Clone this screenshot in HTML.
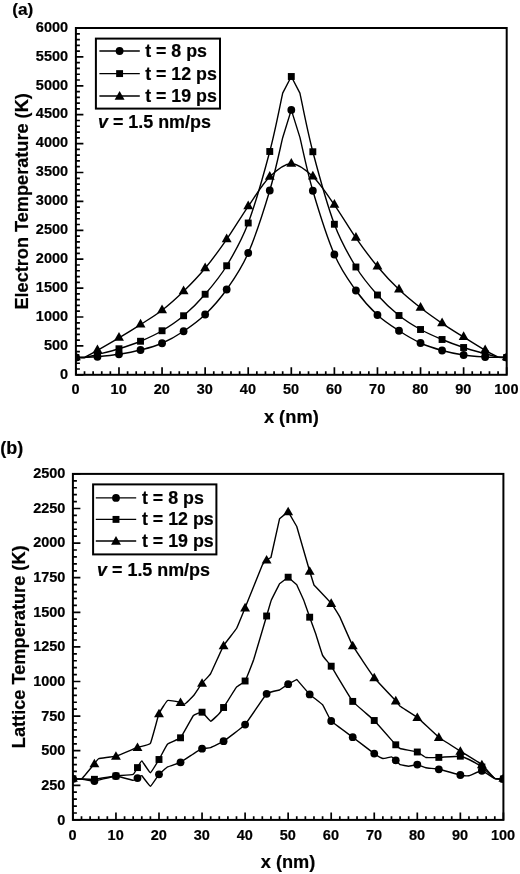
<!DOCTYPE html>
<html><head><meta charset="utf-8"><title>Figure</title>
<style>
html,body{margin:0;padding:0;background:#fff}
svg{display:block}
text{font-family:"Liberation Sans",Arial,sans-serif;font-weight:bold;fill:#000;stroke:#000;stroke-width:0.2px}
</style></head>
<body>
<svg width="520" height="874" viewBox="0 0 520 874">
<rect width="520" height="874" fill="#fff"/>
<g stroke="#000" stroke-width="2" fill="none">
<rect x="75.9" y="28" width="430.8" height="346.8"/>
</g>
<path d="M75.9 374.8v-7.5M84.52 374.8v-3.6M93.13 374.8v-3.6M101.75 374.8v-3.6M110.36 374.8v-3.6M118.98 374.8v-7.5M127.6 374.8v-3.6M136.21 374.8v-3.6M144.83 374.8v-3.6M153.44 374.8v-3.6M162.06 374.8v-7.5M170.68 374.8v-3.6M179.29 374.8v-3.6M187.91 374.8v-3.6M196.52 374.8v-3.6M205.14 374.8v-7.5M213.76 374.8v-3.6M222.37 374.8v-3.6M230.99 374.8v-3.6M239.6 374.8v-3.6M248.22 374.8v-7.5M256.84 374.8v-3.6M265.45 374.8v-3.6M274.07 374.8v-3.6M282.68 374.8v-3.6M291.3 374.8v-7.5M299.92 374.8v-3.6M308.53 374.8v-3.6M317.15 374.8v-3.6M325.76 374.8v-3.6M334.38 374.8v-7.5M343 374.8v-3.6M351.61 374.8v-3.6M360.23 374.8v-3.6M368.84 374.8v-3.6M377.46 374.8v-7.5M386.08 374.8v-3.6M394.69 374.8v-3.6M403.31 374.8v-3.6M411.92 374.8v-3.6M420.54 374.8v-7.5M429.16 374.8v-3.6M437.77 374.8v-3.6M446.39 374.8v-3.6M455 374.8v-3.6M463.62 374.8v-7.5M472.24 374.8v-3.6M480.85 374.8v-3.6M489.47 374.8v-3.6M498.08 374.8v-3.6M506.7 374.8v-7.5M75.9 374.8h7.5M75.9 369.02h4M75.9 363.24h4M75.9 357.46h4M75.9 351.68h4M75.9 345.9h7.5M75.9 340.12h4M75.9 334.34h4M75.9 328.56h4M75.9 322.78h4M75.9 317h7.5M75.9 311.22h4M75.9 305.44h4M75.9 299.66h4M75.9 293.88h4M75.9 288.1h7.5M75.9 282.32h4M75.9 276.54h4M75.9 270.76h4M75.9 264.98h4M75.9 259.2h7.5M75.9 253.42h4M75.9 247.64h4M75.9 241.86h4M75.9 236.08h4M75.9 230.3h7.5M75.9 224.52h4M75.9 218.74h4M75.9 212.96h4M75.9 207.18h4M75.9 201.4h7.5M75.9 195.62h4M75.9 189.84h4M75.9 184.06h4M75.9 178.28h4M75.9 172.5h7.5M75.9 166.72h4M75.9 160.94h4M75.9 155.16h4M75.9 149.38h4M75.9 143.6h7.5M75.9 137.82h4M75.9 132.04h4M75.9 126.26h4M75.9 120.48h4M75.9 114.7h7.5M75.9 108.92h4M75.9 103.14h4M75.9 97.36h4M75.9 91.58h4M75.9 85.8h7.5M75.9 80.02h4M75.9 74.24h4M75.9 68.46h4M75.9 62.68h4M75.9 56.9h7.5M75.9 51.12h4M75.9 45.34h4M75.9 39.56h4M75.9 33.78h4M75.9 28h7.5" stroke="#000" stroke-width="1.7" fill="none"/>
<clipPath id="ca"><rect x="75.9" y="28" width="430.8" height="346.8"/></clipPath>
<g clip-path="url(#ca)">
<path d="M75.9 357.5L84.52 357.5C86.67 357.38 91.7 357.29 97.44 356.75C103.18 356.21 111.8 355.38 118.98 354.25C126.16 353.12 133.34 351.83 140.52 350C147.7 348.17 154.88 346.38 162.06 343.25C169.24 340.12 176.42 336.04 183.6 331.25C190.78 326.46 197.96 321.46 205.14 314.5C212.32 307.54 219.5 299.75 226.68 289.5C233.86 279.25 241.04 269.5 248.22 253C255.4 236.5 264.02 209.72 269.76 190.5C275.5 171.28 280.53 146.5 282.68 137.7L291.3 109.9L299.92 137.4C302.07 146.29 307.1 171.23 312.84 190.75C318.58 210.27 327.2 237.88 334.38 254.5C341.56 271.12 348.74 280.42 355.92 290.5C363.1 300.58 370.28 308.29 377.46 315C384.64 321.71 391.82 326.08 399 330.75C406.18 335.42 413.36 339.71 420.54 343C427.72 346.29 434.9 348.5 442.08 350.5C449.26 352.5 456.44 353.92 463.62 355C470.8 356.08 479.42 356.6 485.16 357C490.9 357.4 495.93 357.33 498.08 357.4L506.7 357.5" stroke="#000" stroke-width="1.4" fill="none" stroke-linejoin="round"/>
<g fill="#000"><circle cx="75.9" cy="357.5" r="3.9"/><circle cx="97.44" cy="356.75" r="3.9"/><circle cx="118.98" cy="354.25" r="3.9"/><circle cx="140.52" cy="350" r="3.9"/><circle cx="162.06" cy="343.25" r="3.9"/><circle cx="183.6" cy="331.25" r="3.9"/><circle cx="205.14" cy="314.5" r="3.9"/><circle cx="226.68" cy="289.5" r="3.9"/><circle cx="248.22" cy="253" r="3.9"/><circle cx="269.76" cy="190.5" r="3.9"/><circle cx="291.3" cy="109.9" r="3.9"/><circle cx="312.84" cy="190.75" r="3.9"/><circle cx="334.38" cy="254.5" r="3.9"/><circle cx="355.92" cy="290.5" r="3.9"/><circle cx="377.46" cy="315" r="3.9"/><circle cx="399" cy="330.75" r="3.9"/><circle cx="420.54" cy="343" r="3.9"/><circle cx="442.08" cy="350.5" r="3.9"/><circle cx="463.62" cy="355" r="3.9"/><circle cx="485.16" cy="357" r="3.9"/><circle cx="506.7" cy="357.5" r="3.9"/></g>
<path d="M75.9 357.5L84.52 357.5C86.67 357 91.7 355.96 97.44 354.5C103.18 353.04 111.8 350.96 118.98 348.75C126.16 346.54 133.34 344.25 140.52 341.25C147.7 338.25 154.88 335 162.06 330.75C169.24 326.5 176.42 321.83 183.6 315.75C190.78 309.67 197.96 302.58 205.14 294.25C212.32 285.92 219.5 277.62 226.68 265.75C233.86 253.88 241.04 242.04 248.22 223C255.4 203.96 264.02 173.15 269.76 151.5C275.5 129.85 280.53 102.83 282.68 93.1L291.3 76.5L299.92 93.1C302.07 102.88 307.1 129.89 312.84 151.75C318.58 173.61 327.2 205.04 334.38 224.25C341.56 243.46 348.74 255.21 355.92 267C363.1 278.79 370.28 286.92 377.46 295C384.64 303.08 391.82 309.75 399 315.5C406.18 321.25 413.36 325.5 420.54 329.5C427.72 333.5 434.9 336.5 442.08 339.5C449.26 342.5 456.44 345.12 463.62 347.5C470.8 349.88 479.42 352.13 485.16 353.75C490.9 355.37 495.93 356.62 498.08 357.2L506.7 357.5" stroke="#000" stroke-width="1.4" fill="none" stroke-linejoin="round"/>
<g fill="#000"><rect x="72.45" y="354.05" width="6.9" height="6.9"/><rect x="93.99" y="351.05" width="6.9" height="6.9"/><rect x="115.53" y="345.3" width="6.9" height="6.9"/><rect x="137.07" y="337.8" width="6.9" height="6.9"/><rect x="158.61" y="327.3" width="6.9" height="6.9"/><rect x="180.15" y="312.3" width="6.9" height="6.9"/><rect x="201.69" y="290.8" width="6.9" height="6.9"/><rect x="223.23" y="262.3" width="6.9" height="6.9"/><rect x="244.77" y="219.55" width="6.9" height="6.9"/><rect x="266.31" y="148.05" width="6.9" height="6.9"/><rect x="287.85" y="73.05" width="6.9" height="6.9"/><rect x="309.39" y="148.3" width="6.9" height="6.9"/><rect x="330.93" y="220.8" width="6.9" height="6.9"/><rect x="352.47" y="263.55" width="6.9" height="6.9"/><rect x="374.01" y="291.55" width="6.9" height="6.9"/><rect x="395.55" y="312.05" width="6.9" height="6.9"/><rect x="417.09" y="326.05" width="6.9" height="6.9"/><rect x="438.63" y="336.05" width="6.9" height="6.9"/><rect x="460.17" y="344.05" width="6.9" height="6.9"/><rect x="481.71" y="350.3" width="6.9" height="6.9"/><rect x="503.25" y="354.05" width="6.9" height="6.9"/></g>
<path d="M75.9 357.5L84.52 357.5C86.67 356.3 91.7 353.58 97.44 350.3C103.18 347.02 111.8 342.09 118.98 337.8C126.16 333.51 133.34 329.13 140.52 324.55C147.7 319.97 154.88 315.84 162.06 310.3C169.24 304.76 176.42 298.3 183.6 291.3C190.78 284.3 197.96 276.97 205.14 268.3C212.32 259.63 219.5 249.63 226.68 239.3C233.86 228.97 241.04 216.72 248.22 206.3C255.4 195.88 262.58 183.88 269.76 176.8C276.94 169.72 284.12 163.84 291.3 163.8C298.48 163.76 305.66 169.72 312.84 176.55C320.02 183.38 327.2 194.59 334.38 204.8C341.56 215.01 348.74 227.51 355.92 237.8C363.1 248.09 370.28 257.93 377.46 266.55C384.64 275.18 391.82 282.68 399 289.55C406.18 296.43 413.36 302.18 420.54 307.8C427.72 313.43 434.9 318.43 442.08 323.3C449.26 328.18 456.44 332.55 463.62 337.05C470.8 341.55 479.42 346.98 485.16 350.3C490.9 353.62 495.93 355.88 498.08 357L506.7 357.5" stroke="#000" stroke-width="1.4" fill="none" stroke-linejoin="round"/>
<g fill="#000"><path d="M75.9 351.77L80.85 360.37L70.95 360.37Z"/><path d="M97.44 344.57L102.39 353.17L92.49 353.17Z"/><path d="M118.98 332.07L123.93 340.67L114.03 340.67Z"/><path d="M140.52 318.82L145.47 327.42L135.57 327.42Z"/><path d="M162.06 304.57L167.01 313.17L157.11 313.17Z"/><path d="M183.6 285.57L188.55 294.17L178.65 294.17Z"/><path d="M205.14 262.57L210.09 271.17L200.19 271.17Z"/><path d="M226.68 233.57L231.63 242.17L221.73 242.17Z"/><path d="M248.22 200.57L253.17 209.17L243.27 209.17Z"/><path d="M269.76 171.07L274.71 179.67L264.81 179.67Z"/><path d="M291.3 158.07L296.25 166.67L286.35 166.67Z"/><path d="M312.84 170.82L317.79 179.42L307.89 179.42Z"/><path d="M334.38 199.07L339.33 207.67L329.43 207.67Z"/><path d="M355.92 232.07L360.87 240.67L350.97 240.67Z"/><path d="M377.46 260.82L382.41 269.42L372.51 269.42Z"/><path d="M399 283.82L403.95 292.42L394.05 292.42Z"/><path d="M420.54 302.07L425.49 310.67L415.59 310.67Z"/><path d="M442.08 317.57L447.03 326.17L437.13 326.17Z"/><path d="M463.62 331.32L468.57 339.92L458.67 339.92Z"/><path d="M485.16 344.57L490.11 353.17L480.21 353.17Z"/><path d="M506.7 351.77L511.65 360.37L501.75 360.37Z"/></g>
</g>
<text x="75.6" y="393.9" text-anchor="middle" font-size="14.5">0</text>
<text x="118.68" y="393.9" text-anchor="middle" font-size="14.5">10</text>
<text x="161.76" y="393.9" text-anchor="middle" font-size="14.5">20</text>
<text x="204.84" y="393.9" text-anchor="middle" font-size="14.5">30</text>
<text x="247.92" y="393.9" text-anchor="middle" font-size="14.5">40</text>
<text x="291" y="393.9" text-anchor="middle" font-size="14.5">50</text>
<text x="334.08" y="393.9" text-anchor="middle" font-size="14.5">60</text>
<text x="377.16" y="393.9" text-anchor="middle" font-size="14.5">70</text>
<text x="420.24" y="393.9" text-anchor="middle" font-size="14.5">80</text>
<text x="463.32" y="393.9" text-anchor="middle" font-size="14.5">90</text>
<text x="506.4" y="393.9" text-anchor="middle" font-size="14.5">100</text>
<text x="68.1" y="379.3" text-anchor="end" font-size="14.5">0</text>
<text x="68.1" y="350.32" text-anchor="end" font-size="14.5">500</text>
<text x="68.1" y="321.34" text-anchor="end" font-size="14.5">1000</text>
<text x="68.1" y="292.36" text-anchor="end" font-size="14.5">1500</text>
<text x="68.1" y="263.38" text-anchor="end" font-size="14.5">2000</text>
<text x="68.1" y="234.4" text-anchor="end" font-size="14.5">2500</text>
<text x="68.1" y="205.42" text-anchor="end" font-size="14.5">3000</text>
<text x="68.1" y="176.44" text-anchor="end" font-size="14.5">3500</text>
<text x="68.1" y="147.46" text-anchor="end" font-size="14.5">4000</text>
<text x="68.1" y="118.48" text-anchor="end" font-size="14.5">4500</text>
<text x="68.1" y="89.5" text-anchor="end" font-size="14.5">5000</text>
<text x="68.1" y="60.52" text-anchor="end" font-size="14.5">5500</text>
<text x="68.1" y="31.54" text-anchor="end" font-size="14.5">6000</text>
<text x="291.3" y="422.5" text-anchor="middle" font-size="18.3">x (nm)</text>
<text transform="translate(28.2 201.4) rotate(-90)" text-anchor="middle" font-size="18.15">Electron Temperature (K)</text>
<text x="12.2" y="15.2" font-size="17.3">(a)</text>
<rect x="95.9" y="38.6" width="124.1" height="70" fill="#fff" stroke="#000" stroke-width="2"/>
<path d="M99.4 51H139.8" stroke="#000" stroke-width="1.4"/>
<circle cx="119.6" cy="51" r="3.9"/>
<text x="145.2" y="57" font-size="17.8">t = 8 ps</text>
<path d="M99.4 73.6H139.8" stroke="#000" stroke-width="1.4"/>
<rect x="116.15" y="70.15" width="6.9" height="6.9"/>
<text x="145.2" y="79.6" font-size="17.8">t = 12 ps</text>
<path d="M99.4 96H139.8" stroke="#000" stroke-width="1.4"/>
<path d="M119.6 91.07L124.55 99.67L114.65 99.67Z"/>
<text x="145.2" y="102" font-size="17.8">t = 19 ps</text>
<text x="98" y="128.3" font-size="17.9"><tspan font-style="italic">v</tspan> = 1.5 nm/ps</text>
<g stroke="#000" stroke-width="2" fill="none">
<rect x="72.9" y="473.9" width="430.5" height="346"/>
</g>
<path d="M72.9 819.9v-7.5M81.51 819.9v-3.6M90.12 819.9v-3.6M98.73 819.9v-3.6M107.34 819.9v-3.6M115.95 819.9v-7.5M124.56 819.9v-3.6M133.17 819.9v-3.6M141.78 819.9v-3.6M150.39 819.9v-3.6M159 819.9v-7.5M167.61 819.9v-3.6M176.22 819.9v-3.6M184.83 819.9v-3.6M193.44 819.9v-3.6M202.05 819.9v-7.5M210.66 819.9v-3.6M219.27 819.9v-3.6M227.88 819.9v-3.6M236.49 819.9v-3.6M245.1 819.9v-7.5M253.71 819.9v-3.6M262.32 819.9v-3.6M270.93 819.9v-3.6M279.54 819.9v-3.6M288.15 819.9v-7.5M296.76 819.9v-3.6M305.37 819.9v-3.6M313.98 819.9v-3.6M322.59 819.9v-3.6M331.2 819.9v-7.5M339.81 819.9v-3.6M348.42 819.9v-3.6M357.03 819.9v-3.6M365.64 819.9v-3.6M374.25 819.9v-7.5M382.86 819.9v-3.6M391.47 819.9v-3.6M400.08 819.9v-3.6M408.69 819.9v-3.6M417.3 819.9v-7.5M425.91 819.9v-3.6M434.52 819.9v-3.6M443.13 819.9v-3.6M451.74 819.9v-3.6M460.35 819.9v-7.5M468.96 819.9v-3.6M477.57 819.9v-3.6M486.18 819.9v-3.6M494.79 819.9v-3.6M503.4 819.9v-7.5M72.9 819.9h7.5M72.9 812.98h4M72.9 806.06h4M72.9 799.14h4M72.9 792.22h4M72.9 785.3h7.5M72.9 778.38h4M72.9 771.46h4M72.9 764.54h4M72.9 757.62h4M72.9 750.7h7.5M72.9 743.78h4M72.9 736.86h4M72.9 729.94h4M72.9 723.02h4M72.9 716.1h7.5M72.9 709.18h4M72.9 702.26h4M72.9 695.34h4M72.9 688.42h4M72.9 681.5h7.5M72.9 674.58h4M72.9 667.66h4M72.9 660.74h4M72.9 653.82h4M72.9 646.9h7.5M72.9 639.98h4M72.9 633.06h4M72.9 626.14h4M72.9 619.22h4M72.9 612.3h7.5M72.9 605.38h4M72.9 598.46h4M72.9 591.54h4M72.9 584.62h4M72.9 577.7h7.5M72.9 570.78h4M72.9 563.86h4M72.9 556.94h4M72.9 550.02h4M72.9 543.1h7.5M72.9 536.18h4M72.9 529.26h4M72.9 522.34h4M72.9 515.42h4M72.9 508.5h7.5M72.9 501.58h4M72.9 494.66h4M72.9 487.74h4M72.9 480.82h4M72.9 473.9h7.5" stroke="#000" stroke-width="1.7" fill="none"/>
<clipPath id="cb"><rect x="72.9" y="473.9" width="430.5" height="346"/></clipPath>
<g clip-path="url(#cb)">
<path d="M72.9 778.8C73.3 778.81 80.51 778.9 81.51 779C82.51 779.1 92.82 781.14 94.43 781C96.03 780.86 114.14 776.03 115.95 776C117.76 775.97 132.17 780.3 133.17 780.4C134.17 780.5 137.07 778.32 137.48 778.1C137.88 777.88 141.18 775.32 141.78 775.7C142.38 776.08 149.59 786.27 150.39 786.2C151.19 786.13 158.2 775.2 159 774.3C159.8 773.4 166.61 767.46 167.61 766.9C168.61 766.34 179.32 762.91 180.53 762.3C181.73 761.69 192.44 754.43 193.44 753.8C194.44 753.17 201.25 748.99 202.05 748.7C202.85 748.41 209.66 747.95 210.66 747.6C211.66 747.25 221.97 742.27 223.58 741.2C225.18 740.13 243.09 726.81 245.1 724.6C247.11 722.39 265.02 695.41 266.62 693.8C268.23 692.19 278.94 690.18 279.54 690L288.15 684.2L296.76 679.5C297.36 680.2 308.47 693.22 309.68 694.4C310.88 695.58 321.59 703.56 322.59 704.8C323.59 706.04 329.79 719.49 331.2 721C332.61 722.51 350.72 735.68 352.73 737.2C354.73 738.72 372.84 752.61 374.25 753.6C375.66 754.59 382.06 758.35 382.86 758.5C383.66 758.65 390.87 756.81 391.47 756.9C392.07 756.99 395.37 760.04 395.77 760.4C396.18 760.76 399.48 764.33 400.08 764.6C400.68 764.87 407.89 766.2 408.69 766.2C409.49 766.2 416.5 764.53 417.3 764.6C418.1 764.67 424.91 767.48 425.91 767.7C426.91 767.92 437.22 768.96 438.83 769.3C440.43 769.64 458.94 774.7 460.35 775C461.76 775.3 467.96 775.9 468.96 775.7C469.96 775.5 480.67 770.67 481.88 770.8C483.08 770.93 493.79 778.12 494.79 778.5C495.79 778.88 503 778.98 503.4 779" stroke="#000" stroke-width="1.4" fill="none" stroke-linejoin="round"/>
<g fill="#000"><circle cx="72.9" cy="778.8" r="3.9"/><circle cx="94.43" cy="781" r="3.9"/><circle cx="115.95" cy="776" r="3.9"/><circle cx="137.48" cy="778.1" r="3.9"/><circle cx="159" cy="774.3" r="3.9"/><circle cx="180.53" cy="762.3" r="3.9"/><circle cx="202.05" cy="748.7" r="3.9"/><circle cx="223.58" cy="741.2" r="3.9"/><circle cx="245.1" cy="724.6" r="3.9"/><circle cx="266.62" cy="693.8" r="3.9"/><circle cx="288.15" cy="684.2" r="3.9"/><circle cx="309.68" cy="694.4" r="3.9"/><circle cx="331.2" cy="721" r="3.9"/><circle cx="352.73" cy="737.2" r="3.9"/><circle cx="374.25" cy="753.6" r="3.9"/><circle cx="395.77" cy="760.4" r="3.9"/><circle cx="417.3" cy="764.6" r="3.9"/><circle cx="438.83" cy="769.3" r="3.9"/><circle cx="460.35" cy="775" r="3.9"/><circle cx="481.88" cy="770.8" r="3.9"/><circle cx="503.4" cy="779" r="3.9"/></g>
<path d="M72.9 778.8C73.3 778.81 80.51 778.98 81.51 779C82.51 779.02 92.82 779.44 94.43 779.3C96.03 779.16 114.14 776.23 115.95 776C117.76 775.77 132.17 774.69 133.17 774.3C134.17 773.91 137.07 768.23 137.48 767.6C137.88 766.97 141.18 760.66 141.78 760.9C142.38 761.14 149.59 772.77 150.39 772.7C151.19 772.63 158.2 760.84 159 759.5C159.8 758.16 166.61 745.01 167.61 744C168.61 742.99 179.32 739.13 180.53 737.8C181.73 736.47 192.44 716.69 193.44 715.5C194.44 714.31 201.25 711.93 202.05 712.2C202.85 712.47 209.86 721.14 210.66 721.2C211.46 721.26 218.67 714.14 219.27 713.5C219.87 712.86 222.77 708.73 223.58 707.5C224.38 706.27 235.49 688.34 236.49 687.1C237.49 685.86 244.3 682.29 245.1 681C245.9 679.71 252.71 662.53 253.71 659.5C254.71 656.47 265.8 618.78 266.62 616C267.45 613.22 270.76 601.5 271.36 600C271.96 598.5 279.16 584.56 279.54 583.8L288.15 577.2L296.76 584.8C297.08 585.51 303.05 598.49 303.65 600C304.25 601.51 309.11 615.62 309.68 617.2C310.24 618.78 315.1 632.02 315.7 633.8C316.3 635.58 321.87 653.89 322.59 655.4C323.31 656.91 329.79 664.05 331.2 666.2C332.61 668.35 350.72 698.87 352.73 701.4C354.73 703.93 372.24 718.47 374.25 720.5C376.26 722.53 394.57 743.49 395.77 744.8C396.98 746.11 399.08 748.16 400.08 748.5C401.08 748.84 416.09 751.58 417.3 752C418.51 752.42 424.91 757.25 425.91 757.5C426.91 757.75 437.22 757.46 438.83 757.4C440.43 757.34 458.94 756.1 460.35 756.2C461.76 756.3 467.96 759 468.96 759.5C469.96 760 480.67 766.11 481.88 767C483.08 767.89 493.79 777.94 494.79 778.5C495.79 779.06 503 778.98 503.4 779" stroke="#000" stroke-width="1.4" fill="none" stroke-linejoin="round"/>
<g fill="#000"><rect x="69.45" y="775.35" width="6.9" height="6.9"/><rect x="90.98" y="775.85" width="6.9" height="6.9"/><rect x="112.5" y="772.55" width="6.9" height="6.9"/><rect x="134.03" y="764.15" width="6.9" height="6.9"/><rect x="155.55" y="756.05" width="6.9" height="6.9"/><rect x="177.08" y="734.35" width="6.9" height="6.9"/><rect x="198.6" y="708.75" width="6.9" height="6.9"/><rect x="220.13" y="704.05" width="6.9" height="6.9"/><rect x="241.65" y="677.55" width="6.9" height="6.9"/><rect x="263.18" y="612.55" width="6.9" height="6.9"/><rect x="284.7" y="573.75" width="6.9" height="6.9"/><rect x="306.23" y="613.75" width="6.9" height="6.9"/><rect x="327.75" y="662.75" width="6.9" height="6.9"/><rect x="349.28" y="697.95" width="6.9" height="6.9"/><rect x="370.8" y="717.05" width="6.9" height="6.9"/><rect x="392.32" y="741.35" width="6.9" height="6.9"/><rect x="413.85" y="748.55" width="6.9" height="6.9"/><rect x="435.38" y="753.95" width="6.9" height="6.9"/><rect x="456.9" y="752.75" width="6.9" height="6.9"/><rect x="478.43" y="763.55" width="6.9" height="6.9"/><rect x="499.95" y="775.55" width="6.9" height="6.9"/></g>
<path d="M72.9 778.8C73.3 778.81 80.51 779.7 81.51 779C82.51 778.3 93.62 764.65 94.43 763.7C95.23 762.75 97.73 758.95 98.73 758.6C99.73 758.25 114.14 756.72 115.95 756.2C117.76 755.68 135.87 748 137.48 747.4C139.08 746.8 149.39 744.98 150.39 743.4C151.39 741.82 158.2 715.6 159 713.6C159.8 711.6 166.61 701.02 167.61 700.5C168.61 699.98 179.72 702.24 180.53 702.4C181.33 702.56 184.23 704.31 184.83 704C185.43 703.69 192.64 696.78 193.44 695.8C194.24 694.82 201.25 684.14 202.05 683.1C202.85 682.06 209.66 675.35 210.66 673.6C211.66 671.85 222.37 647.7 223.58 645.6C224.78 643.5 235.49 630.26 236.49 628.5C237.49 626.74 243.89 610.76 245.1 607.8C246.31 604.84 261.32 567.24 262.32 565C263.32 562.76 266.42 560.14 266.62 559.9L270.93 557.5L279.54 518.8L288.15 511.6L296.76 526.5L309.68 571.2L313.98 585C314.78 585.85 329.99 601.81 331.2 603.3C332.41 604.79 338.81 614.92 339.81 616.9C340.81 618.88 351.12 642.86 352.73 645.7C354.33 648.54 372.24 675.13 374.25 677.7C376.26 680.27 394.57 699.47 395.77 700.8C396.98 702.13 399.08 705.43 400.08 706.2C401.08 706.97 415.49 715.95 417.3 717.4C419.11 718.85 436.82 735.72 438.83 737.3C440.83 738.88 458.34 749.93 460.35 751.2C462.36 752.47 480.27 763.33 481.88 764.6C483.48 765.87 493.79 777.83 494.79 778.5C495.79 779.17 503 778.98 503.4 779" stroke="#000" stroke-width="1.4" fill="none" stroke-linejoin="round"/>
<g fill="#000"><path d="M72.9 773.07L77.85 781.67L67.95 781.67Z"/><path d="M94.43 758.77L99.38 767.37L89.48 767.37Z"/><path d="M115.95 751.27L120.9 759.87L111 759.87Z"/><path d="M137.48 742.47L142.43 751.07L132.53 751.07Z"/><path d="M159 708.67L163.95 717.27L154.05 717.27Z"/><path d="M180.53 697.47L185.47 706.07L175.58 706.07Z"/><path d="M202.05 678.17L207 686.77L197.1 686.77Z"/><path d="M223.58 640.67L228.53 649.27L218.63 649.27Z"/><path d="M245.1 602.87L250.05 611.47L240.15 611.47Z"/><path d="M266.62 554.97L271.57 563.57L261.68 563.57Z"/><path d="M288.15 506.67L293.1 515.27L283.2 515.27Z"/><path d="M309.68 566.27L314.62 574.87L304.73 574.87Z"/><path d="M331.2 598.37L336.15 606.97L326.25 606.97Z"/><path d="M352.73 640.77L357.68 649.37L347.78 649.37Z"/><path d="M374.25 672.77L379.2 681.37L369.3 681.37Z"/><path d="M395.77 695.87L400.72 704.47L390.82 704.47Z"/><path d="M417.3 712.47L422.25 721.07L412.35 721.07Z"/><path d="M438.83 732.37L443.78 740.97L433.88 740.97Z"/><path d="M460.35 746.27L465.3 754.87L455.4 754.87Z"/><path d="M481.88 759.67L486.82 768.27L476.93 768.27Z"/><path d="M503.4 773.27L508.35 781.87L498.45 781.87Z"/></g>
</g>
<text x="72.6" y="839.7" text-anchor="middle" font-size="14.5">0</text>
<text x="115.65" y="839.7" text-anchor="middle" font-size="14.5">10</text>
<text x="158.7" y="839.7" text-anchor="middle" font-size="14.5">20</text>
<text x="201.75" y="839.7" text-anchor="middle" font-size="14.5">30</text>
<text x="244.8" y="839.7" text-anchor="middle" font-size="14.5">40</text>
<text x="287.85" y="839.7" text-anchor="middle" font-size="14.5">50</text>
<text x="330.9" y="839.7" text-anchor="middle" font-size="14.5">60</text>
<text x="373.95" y="839.7" text-anchor="middle" font-size="14.5">70</text>
<text x="417" y="839.7" text-anchor="middle" font-size="14.5">80</text>
<text x="460.05" y="839.7" text-anchor="middle" font-size="14.5">90</text>
<text x="503.1" y="839.7" text-anchor="middle" font-size="14.5">100</text>
<text x="65.4" y="824.8" text-anchor="end" font-size="14.5">0</text>
<text x="65.4" y="790.11" text-anchor="end" font-size="14.5">250</text>
<text x="65.4" y="755.42" text-anchor="end" font-size="14.5">500</text>
<text x="65.4" y="720.73" text-anchor="end" font-size="14.5">750</text>
<text x="65.4" y="686.04" text-anchor="end" font-size="14.5">1000</text>
<text x="65.4" y="651.35" text-anchor="end" font-size="14.5">1250</text>
<text x="65.4" y="616.66" text-anchor="end" font-size="14.5">1500</text>
<text x="65.4" y="581.97" text-anchor="end" font-size="14.5">1750</text>
<text x="65.4" y="547.28" text-anchor="end" font-size="14.5">2000</text>
<text x="65.4" y="512.59" text-anchor="end" font-size="14.5">2250</text>
<text x="65.4" y="477.9" text-anchor="end" font-size="14.5">2500</text>
<text x="288" y="867.5" text-anchor="middle" font-size="18.2">x (nm)</text>
<text transform="translate(25.0 646.8) rotate(-90)" text-anchor="middle" font-size="18.2">Lattice Temperature (K)</text>
<text x="0.3" y="454.2" font-size="18">(b)</text>
<rect x="93.1" y="484.4" width="123.3" height="70" fill="#fff" stroke="#000" stroke-width="2"/>
<path d="M95.8 497.9H136.2" stroke="#000" stroke-width="1.4"/>
<circle cx="116" cy="497.9" r="3.9"/>
<text x="142" y="503.9" font-size="17.8">t = 8 ps</text>
<path d="M95.8 519.4H136.2" stroke="#000" stroke-width="1.4"/>
<rect x="112.55" y="515.95" width="6.9" height="6.9"/>
<text x="142" y="525.4" font-size="17.8">t = 12 ps</text>
<path d="M95.8 541H136.2" stroke="#000" stroke-width="1.4"/>
<path d="M116 536.07L120.95 544.67L111.05 544.67Z"/>
<text x="142" y="547" font-size="17.8">t = 19 ps</text>
<text x="97.1" y="576" font-size="17.9"><tspan font-style="italic">v</tspan> = 1.5 nm/ps</text>
</svg>
</body></html>
